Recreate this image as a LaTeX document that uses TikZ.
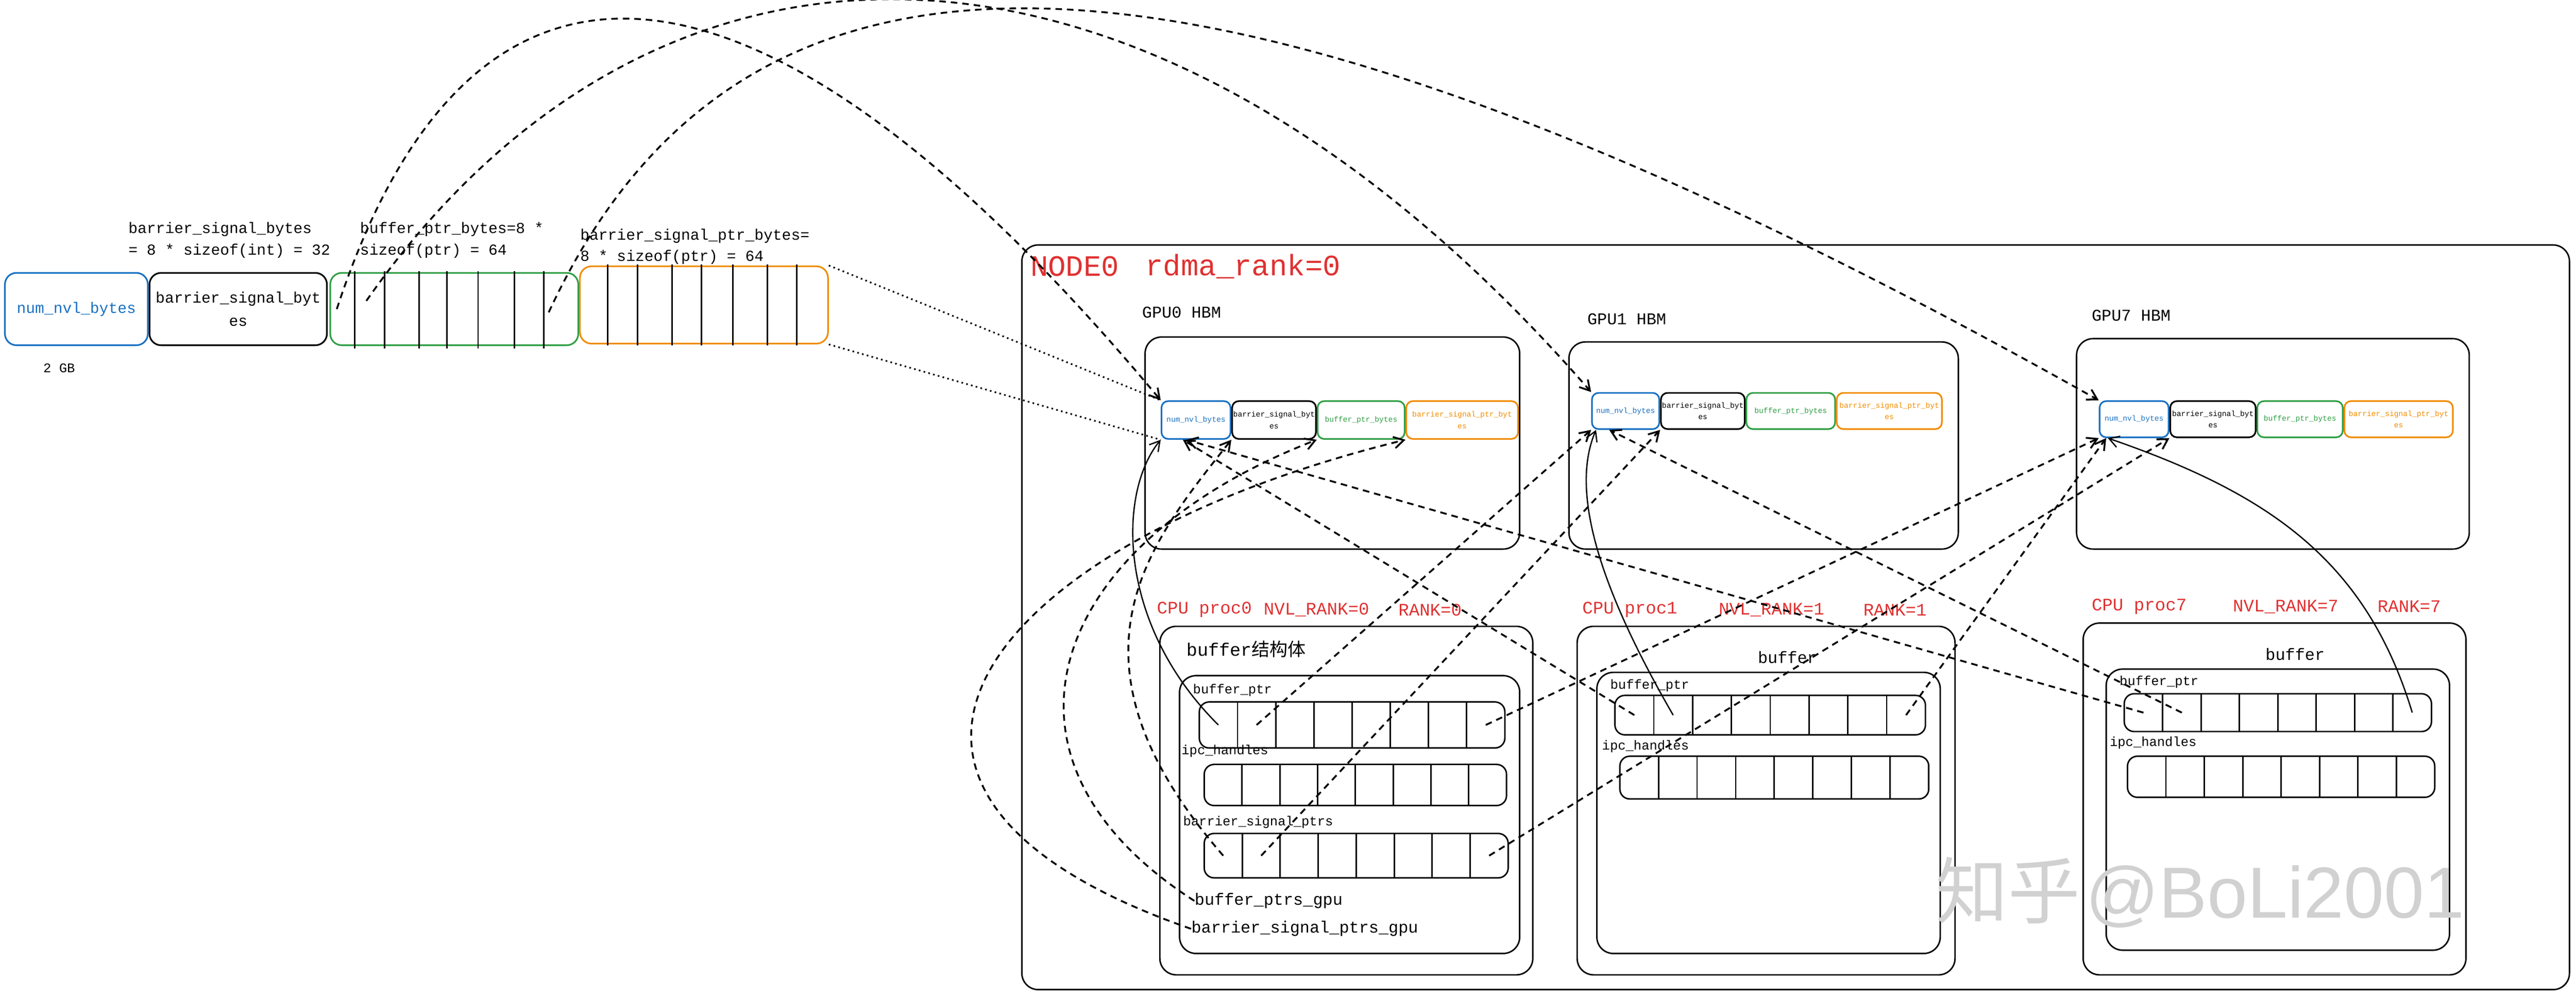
\documentclass[tikz,border=0pt]{standalone}
\usepackage{fontspec}
\usetikzlibrary{arrows.meta}
\newfontfamily\mono{Liberation Mono}
\newfontfamily\cjk{Noto Sans CJK SC}
\newfontfamily\wsans{Liberation Sans}
\newcommand\myfs[2]{\fontsize{#1}{#2}\selectfont}
\definecolor{cblue}{HTML}{1971C2}
\definecolor{cgreen}{HTML}{2F9E44}
\definecolor{corange}{HTML}{F08C00}
\definecolor{cred}{HTML}{E03131}
\newcommand\myarr[5]{%
  \draw[arr] (#2,#3) rectangle (#4,#5);
  \foreach \k in {1,...,7}{\draw[arr] ({#2+\k*(#4-#2)/8},#3) -- ({#2+\k*(#4-#2)/8},#5);}
  \foreach \k in {1,...,8}{\coordinate (#1-\k) at ({#2+(\k-0.5)*(#4-#2)/8},{(#3+#5)/2});}
}
\begin{document}
\begin{tikzpicture}[x=1pt,y=-1pt,
  box/.style={draw, line width=0.9pt, rounded corners=10pt},
  arr/.style={line width=0.9pt, rounded corners=6pt},
  mem/.style={draw, line width=1pt, rounded corners=4pt, inner sep=0pt, align=center, font=\mono\myfs{4.6}{7}},
  big/.style={draw, line width=1pt, rounded corners=7pt, inner sep=0pt, align=center, font=\mono\myfs{9.3}{14}},
  lbl/.style={inner sep=0pt, anchor=west, font=\mono\myfs{8}{10}},
  redl/.style={inner sep=0pt, anchor=west, text=cred, font=\mono\myfs{10.7}{12}},
  tip/.style={-{Straight Barb[length=6pt,width=7pt]}},
  dsh/.style={line width=1.1pt, dash pattern=on 4pt off 3pt},
  dot/.style={line width=1pt, dotted},
  sol/.style={line width=0.8pt}]
\useasboundingbox (0,0) rectangle (1568,605.6);

% ---- left strip ----
\node[big, draw=cblue, text=cblue, minimum width=87pt, minimum height=44pt] (sn) at (46.5,188) {num\_nvl\_bytes};
\node[big, minimum width=108pt, minimum height=44pt] (sb) at (145,188) {barrier\_signal\_byt\\es};
\node[big, draw=cgreen, minimum width=151pt, minimum height=44pt] (sp) at (276.5,188) {};
\node[big, draw=corange, minimum width=151pt, minimum height=47pt] (ss) at (428.5,185.5) {};
\foreach \x in {216,234,255,272,291,313,331}{\draw[line width=0.9pt] (\x,165) -- (\x,212);}
\foreach \x in {370,388,409,427,446,467,485}{\draw[line width=0.9pt] (\x,161) -- (\x,210);}
\node[lbl, anchor=north west, align=left, font=\mono\myfs{9.3}{13}] (t1) at (78,135) {barrier\_signal\_bytes\\= 8 * sizeof(int) = 32};
\node[lbl, anchor=north west, align=left, font=\mono\myfs{9.3}{13}] (t2) at (219,135) {buffer\_ptr\_bytes=8 *\\sizeof(ptr) = 64};
\node[lbl, anchor=north west, align=left, font=\mono\myfs{9.3}{13}] (t3) at (353,139) {barrier\_signal\_ptr\_bytes=\\8 * sizeof(ptr) = 64};
\node[lbl, anchor=center] (gb) at (36,224) {2 GB};

% ---- NODE0 ----
\draw[box] (622,149) rectangle (1564,602);
\node[lbl, text=cred, font=\mono\myfs{18}{20}] (n0) at (627,162) {NODE0};
\node[lbl, text=cred, font=\mono\myfs{18}{20}] (rr) at (697,162) {rdma\_rank=0};

% ---- GPUs ----
\node[lbl, font=\mono\myfs{10}{12}] (h0) at (695,190) {GPU0 HBM};
\node[lbl, font=\mono\myfs{10}{12}] (h1) at (966,194) {GPU1 HBM};
\node[lbl, font=\mono\myfs{10}{12}] (h7) at (1273,192) {GPU7 HBM};
\draw[box] (697,205) rectangle (925,334);
\draw[box] (955,208) rectangle (1192,334);
\draw[box] (1264,206) rectangle (1503,334);

\node[mem, draw=cblue, text=cblue, minimum width=42pt, minimum height=23pt] (g0n) at (728,255.5) {num\_nvl\_bytes};
\node[mem, minimum width=51pt, minimum height=23pt] (g0b) at (775.5,255.5) {barrier\_signal\_byt\\es};
\node[mem, draw=cgreen, text=cgreen, minimum width=53pt, minimum height=23pt] (g0p) at (828.5,255.5) {buffer\_ptr\_bytes};
\node[mem, draw=corange, text=corange, minimum width=68pt, minimum height=23pt] (g0s) at (890,255.5) {barrier\_signal\_ptr\_byt\\es};

\node[mem, draw=cblue, text=cblue, minimum width=41pt, minimum height=22pt] (g1n) at (989.5,250) {num\_nvl\_bytes};
\node[mem, minimum width=51pt, minimum height=22pt] (g1b) at (1036.5,250) {barrier\_signal\_byt\\es};
\node[mem, draw=cgreen, text=cgreen, minimum width=54pt, minimum height=22pt] (g1p) at (1090,250) {buffer\_ptr\_bytes};
\node[mem, draw=corange, text=corange, minimum width=64pt, minimum height=22pt] (g1s) at (1150,250) {barrier\_signal\_ptr\_byt\\es};

\node[mem, draw=cblue, text=cblue, minimum width=42pt, minimum height=22pt] (g7n) at (1299,255) {num\_nvl\_bytes};
\node[mem, minimum width=52pt, minimum height=22pt] (g7b) at (1347,255) {barrier\_signal\_byt\\es};
\node[mem, draw=cgreen, text=cgreen, minimum width=52pt, minimum height=22pt] (g7p) at (1400,255) {buffer\_ptr\_bytes};
\node[mem, draw=corange, text=corange, minimum width=66pt, minimum height=22pt] (g7s) at (1460,255) {barrier\_signal\_ptr\_byt\\es};

% ---- CPU proc0 ----
\node[redl] (c0a) at (704,371) {CPU proc0};
\node[redl] (c0b) at (769,371) {NVL\_RANK=0};
\node[redl] (c0c) at (851,371) {RANK=0};
\draw[box] (706,381) rectangle (933,593);
\node[lbl] (bs0) at (722,395) {{\mono\myfs{11}{12}buffer}{\cjk\myfs{11}{12}结构体}};
\draw[box] (718,411) rectangle (925,580);
\node[lbl] (l0a) at (726,420) {buffer\_ptr};
\myarr{p0bp}{730}{427}{916}{455}
\node[lbl] (l0b) at (719,457) {ipc\_handles};
\myarr{p0ipc}{733}{465}{917}{490}
\node[lbl] (l0c) at (720,500) {barrier\_signal\_ptrs};
\myarr{p0bs}{733}{507}{918}{534}
\node[lbl, font=\mono\myfs{10}{12}] (bpg) at (727,548) {buffer\_ptrs\_gpu};
\node[lbl, font=\mono\myfs{10}{12}] (bspg) at (725,565) {barrier\_signal\_ptrs\_gpu};

% ---- CPU proc1 ----
\node[redl] (c1a) at (963,371) {CPU proc1};
\node[redl] (c1b) at (1046,371) {NVL\_RANK=1};
\node[redl] (c1c) at (1134,371) {RANK=1};
\draw[box] (960,381) rectangle (1190,593);
\node[lbl, anchor=center, font=\mono\myfs{10}{12}] (bf1) at (1088,400) {buffer};
\draw[box] (972,409) rectangle (1181,580);
\node[lbl] (l1a) at (980,417) {buffer\_ptr};
\myarr{p1bp}{983}{423}{1172}{447}
\node[lbl] (l1b) at (975,454) {ipc\_handles};
\myarr{p1ipc}{986}{460}{1174}{486}

% ---- CPU proc7 ----
\node[redl] (c7a) at (1273,369) {CPU proc7};
\node[redl] (c7b) at (1359,369) {NVL\_RANK=7};
\node[redl] (c7c) at (1447,369) {RANK=7};
\draw[box] (1268,379) rectangle (1501,593);
\node[lbl, anchor=center, font=\mono\myfs{10}{12}] (bf7) at (1397,398) {buffer};
\draw[box] (1282,407) rectangle (1491,578);
\node[lbl] (l7a) at (1290,415) {buffer\_ptr};
\myarr{p7bp}{1293}{422}{1480}{445}
\node[lbl] (l7b) at (1284,452) {ipc\_handles};
\myarr{p7ipc}{1295}{460}{1482}{485}

% ---- watermark ----
\node[inner sep=0pt, anchor=west, text=black!18] (wm) at (1178,543) {{\cjk\myfs{44}{46}知乎} {\wsans\myfs{44}{46}@BoLi2001}};

% ---- connectors ----
\coordinate (s1) at (205,188);
\coordinate (s2) at (223,183);
\coordinate (s3) at (334,190);
\draw[dsh, tip] (s1) .. controls (290,-70) and (470,-40) .. (g0n.north west);
\draw[dsh, tip] (s2) .. controls (400,-70) and (700,-70) .. (g1n.north west);
\draw[dsh, tip] (s3) .. controls (450,-60) and (720,-70) .. (g7n.north west);
\draw[dot] (ss.north east) -- (g0n.north west);
\draw[dot] (ss.south east) -- (g0n.south west);

\draw[sol, tip] (p0bp-1) .. controls (680,380) and (680,300) .. (g0n.south west);
\draw[dsh, tip] (p0bp-2) -- (g1n.south west);
\draw[dsh, tip] (p0bp-8) -- (g7n.south west);
\draw[dsh, tip] (p1bp-1) -- ([xshift=-8pt]g0n.south);
\draw[dsh, tip] (p7bp-1) -- ([xshift=-6pt]g0n.south);
\draw[dsh, tip] (p7bp-2) -- ([xshift=-10pt]g1n.south);
\draw[sol, tip] (p1bp-2) .. controls (975,360) and (955,300) .. ([xshift=-18pt]g1n.south);
\draw[dsh, tip] (p1bp-8) -- ([xshift=-17pt]g7n.south);
\draw[sol, tip] (p7bp-8) .. controls (1440,340) and (1380,300) .. ([xshift=-16pt]g7n.south);
\draw[dsh, tip] (p0bs-1) .. controls (640,400) and (700,330) .. (g0b.south west);
\draw[dsh, tip] (p0bs-2) -- (g1b.south west);
\draw[dsh, tip] (p0bs-8) -- (g7b.south west);
\draw[dsh, tip] (bpg.west) .. controls (590,460) and (640,330) .. (g0p.south west);
\draw[dsh, tip] (bspg.west) .. controls (480,480) and (600,330) .. (g0s.south west);
\end{tikzpicture}
\end{document}
